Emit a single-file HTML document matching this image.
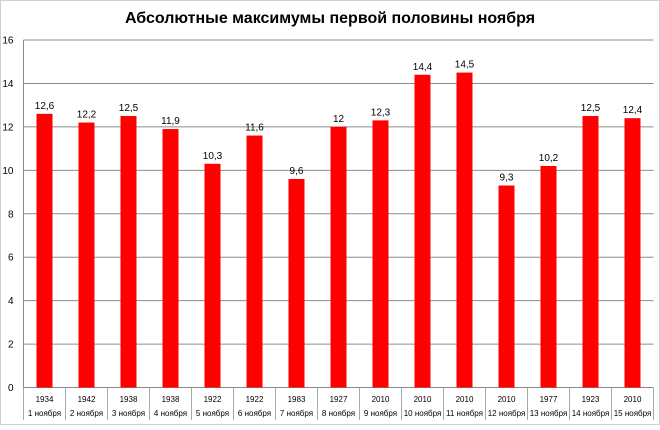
<!DOCTYPE html>
<html><head><meta charset="utf-8"><style>
body{margin:0;background:#fff;font-family:"Liberation Sans",sans-serif}
</style></head><body>
<svg width="660" height="425" xmlns="http://www.w3.org/2000/svg">
<rect x="0.5" y="0.5" width="659" height="424" fill="#fff" stroke="#d0d0d0"/>
<text x="330" y="23" text-anchor="middle" font-size="16" font-weight="bold" fill="#000">Абсолютные максимумы первой половины ноября</text>
<g id="grid"></g><g id="bars"></g><g id="axes"></g>
</svg>
<script>
const categories=["1 ноября","2 ноября","3 ноября","4 ноября","5 ноября","6 ноября","7 ноября","8 ноября","9 ноября","10 ноября","11 ноября","12 ноября","13 ноября","14 ноября","15 ноября"];
const years=["1934","1942","1938","1938","1922","1922","1983","1927","2010","2010","2010","2010","1977","1923","2010"];
const values=[12.6,12.2,12.5,11.9,10.3,11.6,9.6,12,12.3,14.4,14.5,9.3,10.2,12.5,12.4];
const labels=["12,6","12,2","12,5","11,9","10,3","11,6","9,6","12","12,3","14,4","14,5","9,3","10,2","12,5","12,4"];
const yTicks=[0,2,4,6,8,10,12,14,16];
const NS="http://www.w3.org/2000/svg";
const L=23.5,R=653.5,T=40,B=387.5,yMax=16;
const cw=(R-L)/categories.length;
const y=v=>B-(B-T)*v/yMax;
const x=i=>L+cw*i;
function mk(tag,attrs,parent,txt){const e=document.createElementNS(NS,tag);for(const k in attrs)e.setAttribute(k,attrs[k]);if(txt!==undefined)e.textContent=txt;document.getElementById(parent).appendChild(e);return e;}
yTicks.forEach(t=>{
 const l=mk("line",{x1:L,x2:R,y1:y(t),y2:y(t),stroke:t===0?"#888":"#8c8c8c","stroke-width":1},"grid");
 
 
 const tx=mk("text",{x:L-10,y:y(t)+3.5,"text-anchor":"end","font-size":10,fill:"#000"},"axes",String(t));
 
 
});
const ax=mk("line",{x1:L,x2:L,y1:T,y2:B,stroke:"#888"},"axes");


for(let i=0;i<=categories.length;i++){
 const s=mk("line",{x1:x(i),x2:x(i),y1:B,y2:420,stroke:"#aaa"},"axes");
 
 
}
values.forEach((v,i)=>{
 const cx=x(i)+cw/2;
 const r=mk("rect",{x:cx-8,y:y(v),width:16,height:B-y(v),fill:"#ff0000"},"bars");
 
 
 const lb=mk("text",{x:cx,y:y(v)-5,"text-anchor":"middle","font-size":10,fill:"#000"},"bars",labels[i]);
 
 
 const yr=mk("text",{x:cx,y:402,"text-anchor":"middle","font-size":8,fill:"#000"},"axes",years[i]);
 
 
 const d=mk("text",{x:cx,y:416,"text-anchor":"middle","font-size":8,fill:"#000"},"axes",categories[i]);
 
 
});
</script>
</body></html>
